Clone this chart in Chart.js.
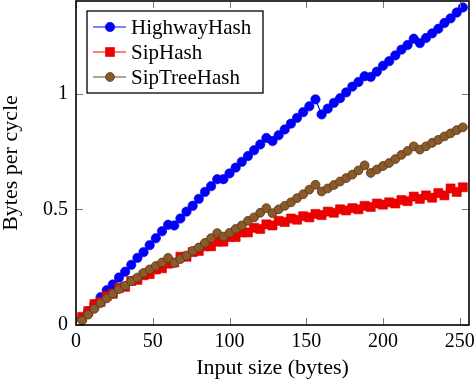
<!DOCTYPE html>
<html>
<head>
<meta charset="utf-8">
<script src="https://cdn.jsdelivr.net/npm/chart.js@4/dist/chart.umd.min.js"></script>
<style>
html,body{margin:0;padding:0;background:#fff;}
#wrap{width:474px;height:383px;position:relative;}
</style>
</head>
<body>
<div id="wrap"><canvas id="c" width="474" height="383"></canvas></div>
<script>
const inputSizes = [4,8,12,16,20,24,28,32,36,40,44,48,52,56,60,64,68,72,76,80,84,88,92,96,100,104,108,112,116,120,124,128,132,136,140,144,148,152,156,160,164,168,172,176,180,184,188,192,196,200,204,208,212,216,220,224,228,232,236,240,244,248,252];
const highwayHash = [0.03,0.06,0.09,0.12,0.15,0.175,0.205,0.23,0.26,0.29,0.315,0.345,0.375,0.405,0.433,
  0.43,0.46,0.49,0.515,0.545,0.575,0.60,0.63,
  0.63,0.655,0.68,0.705,0.73,0.755,0.78,0.808,
  0.795,0.82,0.845,0.87,0.895,0.92,0.945,0.975,
  0.91,0.935,0.96,0.98,1.005,1.03,1.05,1.075,
  1.072,1.095,1.12,1.14,1.165,1.19,1.21,1.237,
  1.218,1.24,1.26,1.28,1.305,1.325,1.35,1.372];
const sipHash = [0.035,0.06,0.09,0.10,0.125,0.135,0.16,0.165,0.19,0.195,0.215,0.22,0.24,0.245,0.265,
  0.27,0.295,0.295,0.315,0.32,0.34,0.34,0.36,
  0.36,0.38,0.38,0.40,0.40,0.42,0.415,0.435,
  0.43,0.45,0.445,0.46,0.455,0.47,0.465,0.48,
  0.475,0.49,0.485,0.50,0.495,0.505,0.50,0.515,
  0.51,0.525,0.52,0.53,0.525,0.54,0.535,0.555,
  0.545,0.56,0.55,0.57,0.56,0.59,0.575,0.595];
const sipTreeHash = [0.02,0.045,0.07,0.095,0.115,0.135,0.155,0.17,0.19,0.205,0.225,0.24,0.255,0.27,0.29,
  0.268,0.285,0.30,0.32,0.335,0.355,0.375,0.397,
  0.382,0.398,0.415,0.43,0.45,0.465,0.485,0.505,
  0.483,0.50,0.515,0.53,0.548,0.565,0.585,0.606,
  0.577,0.59,0.605,0.62,0.635,0.65,0.668,0.69,
  0.657,0.672,0.687,0.70,0.717,0.735,0.752,0.772,
  0.758,0.772,0.787,0.80,0.815,0.828,0.842,0.854];
const seriesNames = ['HighwayHash','SipHash','SipTreeHash'];
const xTicks = [0,50,100,150,200,250];
const yTicks = [0,0.5,1];
const yTickLabels = ['0','0.5','1'];

const SERIF = '"Liberation Serif","Times New Roman",serif';

function pts(ys){ return inputSizes.map((x,i)=>({x:x,y:ys[i]})); }

const frameAndTicks = {
  id:'frameAndTicks',
  afterDatasetsDraw(chart){
    const {ctx, chartArea:a, scales:{x, y}} = chart;
    ctx.save();
    ctx.strokeStyle = '#777';
    ctx.lineWidth = 1;
    const L = 7;
    ctx.beginPath();
    xTicks.forEach(v=>{
      const px = Math.round(x.getPixelForValue(v))+0.5;
      ctx.moveTo(px,a.bottom); ctx.lineTo(px,a.bottom-L);
      ctx.moveTo(px,a.top); ctx.lineTo(px,a.top+L);
    });
    yTicks.forEach(v=>{
      const py = Math.round(y.getPixelForValue(v))+0.5;
      ctx.moveTo(a.left,py); ctx.lineTo(a.left+L,py);
      ctx.moveTo(a.right,py); ctx.lineTo(a.right-L,py);
    });
    ctx.stroke();
    ctx.strokeStyle = '#000';
    ctx.lineWidth = 1.6;
    ctx.strokeRect(a.left, a.top, a.right-a.left, a.bottom-a.top);
    // legend
    const bx = a.left + 11, by = a.top + 10, bw = 176, bh = 82;
    ctx.fillStyle = '#fff';
    ctx.fillRect(bx,by,bw,bh);
    ctx.strokeStyle = '#000';
    ctx.lineWidth = 1.3;
    ctx.strokeRect(bx,by,bw,bh);
    ctx.font = '21px ' + SERIF;
    ctx.textBaseline = 'middle';
    ctx.textAlign = 'left';
    chart.data.datasets.forEach((ds,i)=>{
      const ry = by + 16 + i*25;
      ctx.strokeStyle = ds.borderColor;
      ctx.lineWidth = 1.2;
      ctx.beginPath(); ctx.moveTo(bx+6, ry); ctx.lineTo(bx+39, ry); ctx.stroke();
      ctx.fillStyle = ds.pointBackgroundColor;
      ctx.strokeStyle = ds.pointBorderColor;
      ctx.lineWidth = ds.pointBorderWidth;
      Chart.helpers.drawPoint(ctx, {pointStyle: ds.pointStyle, radius: ds.pointRadius, borderWidth: ds.pointBorderWidth, rotation:0}, bx+23, ry);
      ctx.fillStyle = '#000';
      ctx.fillText(ds.label, bx+44, ry+1);
    });
    ctx.restore();
  }
};

function zeroPad(s){ s.paddingTop = 0; s.paddingBottom = 0; s.paddingLeft = 0; s.paddingRight = 0; }

new Chart(document.getElementById('c'), {
  type:'line',
  data:{
    datasets:[
      {label:seriesNames[0], data:pts(highwayHash), borderColor:'#0000ff', backgroundColor:'#0000ff',
       pointBackgroundColor:'#0000ff', pointBorderColor:'#0000cc', pointBorderWidth:0.6, pointStyle:'circle', pointRadius:4.7, borderWidth:1.2, order:3},
      {label:seriesNames[1], data:pts(sipHash), borderColor:'#ff0000', backgroundColor:'#ff0000',
       pointBackgroundColor:'#ee0000', pointBorderColor:'#dd0000', pointBorderWidth:0.6, pointStyle:'rect', pointRadius:6.4, borderWidth:1.2, order:2},
      {label:seriesNames[2], data:pts(sipTreeHash), borderColor:'#6e4622', backgroundColor:'#8b5a2b',
       pointBackgroundColor:'#8b5a2b', pointBorderColor:'#5c3b1b', pointBorderWidth:0.9, pointStyle:'circle', pointRadius:4.4, borderWidth:1.2, order:1}
    ]
  },
  options:{
    responsive:false, animation:false,
    layout:{autoPadding:false, padding:{top:1,right:5,left:0,bottom:0}},
    plugins:{legend:{display:false}, tooltip:{enabled:false}},
    elements:{line:{tension:0}},
    scales:{
      x:{type:'linear', min:0, max:256,
        grid:{display:false, drawTicks:false}, border:{display:false},
        afterBuildTicks(s){ s.ticks = xTicks.map(v=>({value:v})); },
        afterFit(s){ s.height = 58; zeroPad(s); },
        ticks:{padding:5, color:'#000', font:{family:SERIF, size:20}, maxRotation:0, callback:(v)=>String(v)},
        title:{display:true, text:'Input size (bytes)', color:'#000', font:{family:SERIF, size:22, lineHeight:1}, padding:{top:0,bottom:4}}
      },
      y:{type:'linear', min:0, max:1.4,
        grid:{display:false, drawTicks:false}, border:{display:false},
        afterBuildTicks(s){ s.ticks = yTicks.map(v=>({value:v})); },
        afterFit(s){ s.width = 76; zeroPad(s); },
        ticks:{padding:8, color:'#000', font:{family:SERIF, size:20}, callback:(v)=>yTickLabels[yTicks.indexOf(v)]},
        title:{display:true, text:'Bytes per cycle', color:'#000', font:{family:SERIF, size:22, lineHeight:1}, padding:{top:0,bottom:0}}
      }
    }
  },
  plugins:[frameAndTicks]
});
</script>
</body>
</html>
